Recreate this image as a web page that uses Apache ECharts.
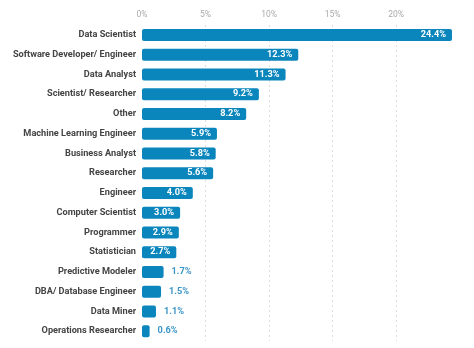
<!DOCTYPE html>
<html><head><meta charset="utf-8">
<script src="https://cdn.jsdelivr.net/npm/echarts@6/dist/echarts.min.js"></script>
<style>html,body{margin:0;padding:0;background:#fff}#c{width:474px;height:348px}</style>
</head><body><div id="c"></div>
<script>
const categories = ["Data Scientist","Software Developer/ Engineer","Data Analyst","Scientist/ Researcher","Other","Machine Learning Engineer","Business Analyst","Researcher","Engineer","Computer Scientist","Programmer","Statistician","Predictive Modeler","DBA/ Database Engineer","Data Miner","Operations Researcher"];
const values = [24.4,12.3,11.3,9.2,8.2,5.9,5.8,5.6,4.0,3.0,2.9,2.7,1.7,1.5,1.1,0.6];
const tickValues = [0,5,10,15,20];

const chart = echarts.init(document.getElementById('c'));
const BAR = '#0a86bd';
chart.setOption({
  animation:false,
  grid:{left:142,right:22,top:25,bottom:7,containLabel:false,outerBoundsMode:'none'},
  xAxis:{type:'value',position:'top',min:0,max:24.4,interval:5,
    axisLine:{show:false},axisTick:{show:false},
    axisLabel:{formatter:v=>tickValues.includes(v)?v+'%':'',color:'#aaa',fontSize:8.5,fontFamily:'Roboto',margin:6},
    splitLine:{show:true,showMinLine:false,showMaxLine:false,lineStyle:{color:'#ddd',type:[2,3],width:1}}
  },
  yAxis:{type:'category',inverse:true,data:categories,
    axisLine:{show:false},axisTick:{show:false},
    axisLabel:{color:'#444',fontSize:9.2,fontWeight:'bold',fontFamily:'Roboto',margin:6}
  },
  series:[{type:'bar',barWidth:12,
    data: values.map(v=>({value:v,label: v>=2.5 ? {position:'insideRight',color:'#fff',offset:[-1,0]} : {position:'right',color:'#3a95c8',distance:8}})),
    itemStyle:{color:BAR,borderRadius:2},
    label:{show:true,formatter:p=>p.value.toFixed(1)+'%',fontWeight:'bold',fontSize:9.2,fontFamily:'Roboto'}
  }]
});
</script></body></html>
